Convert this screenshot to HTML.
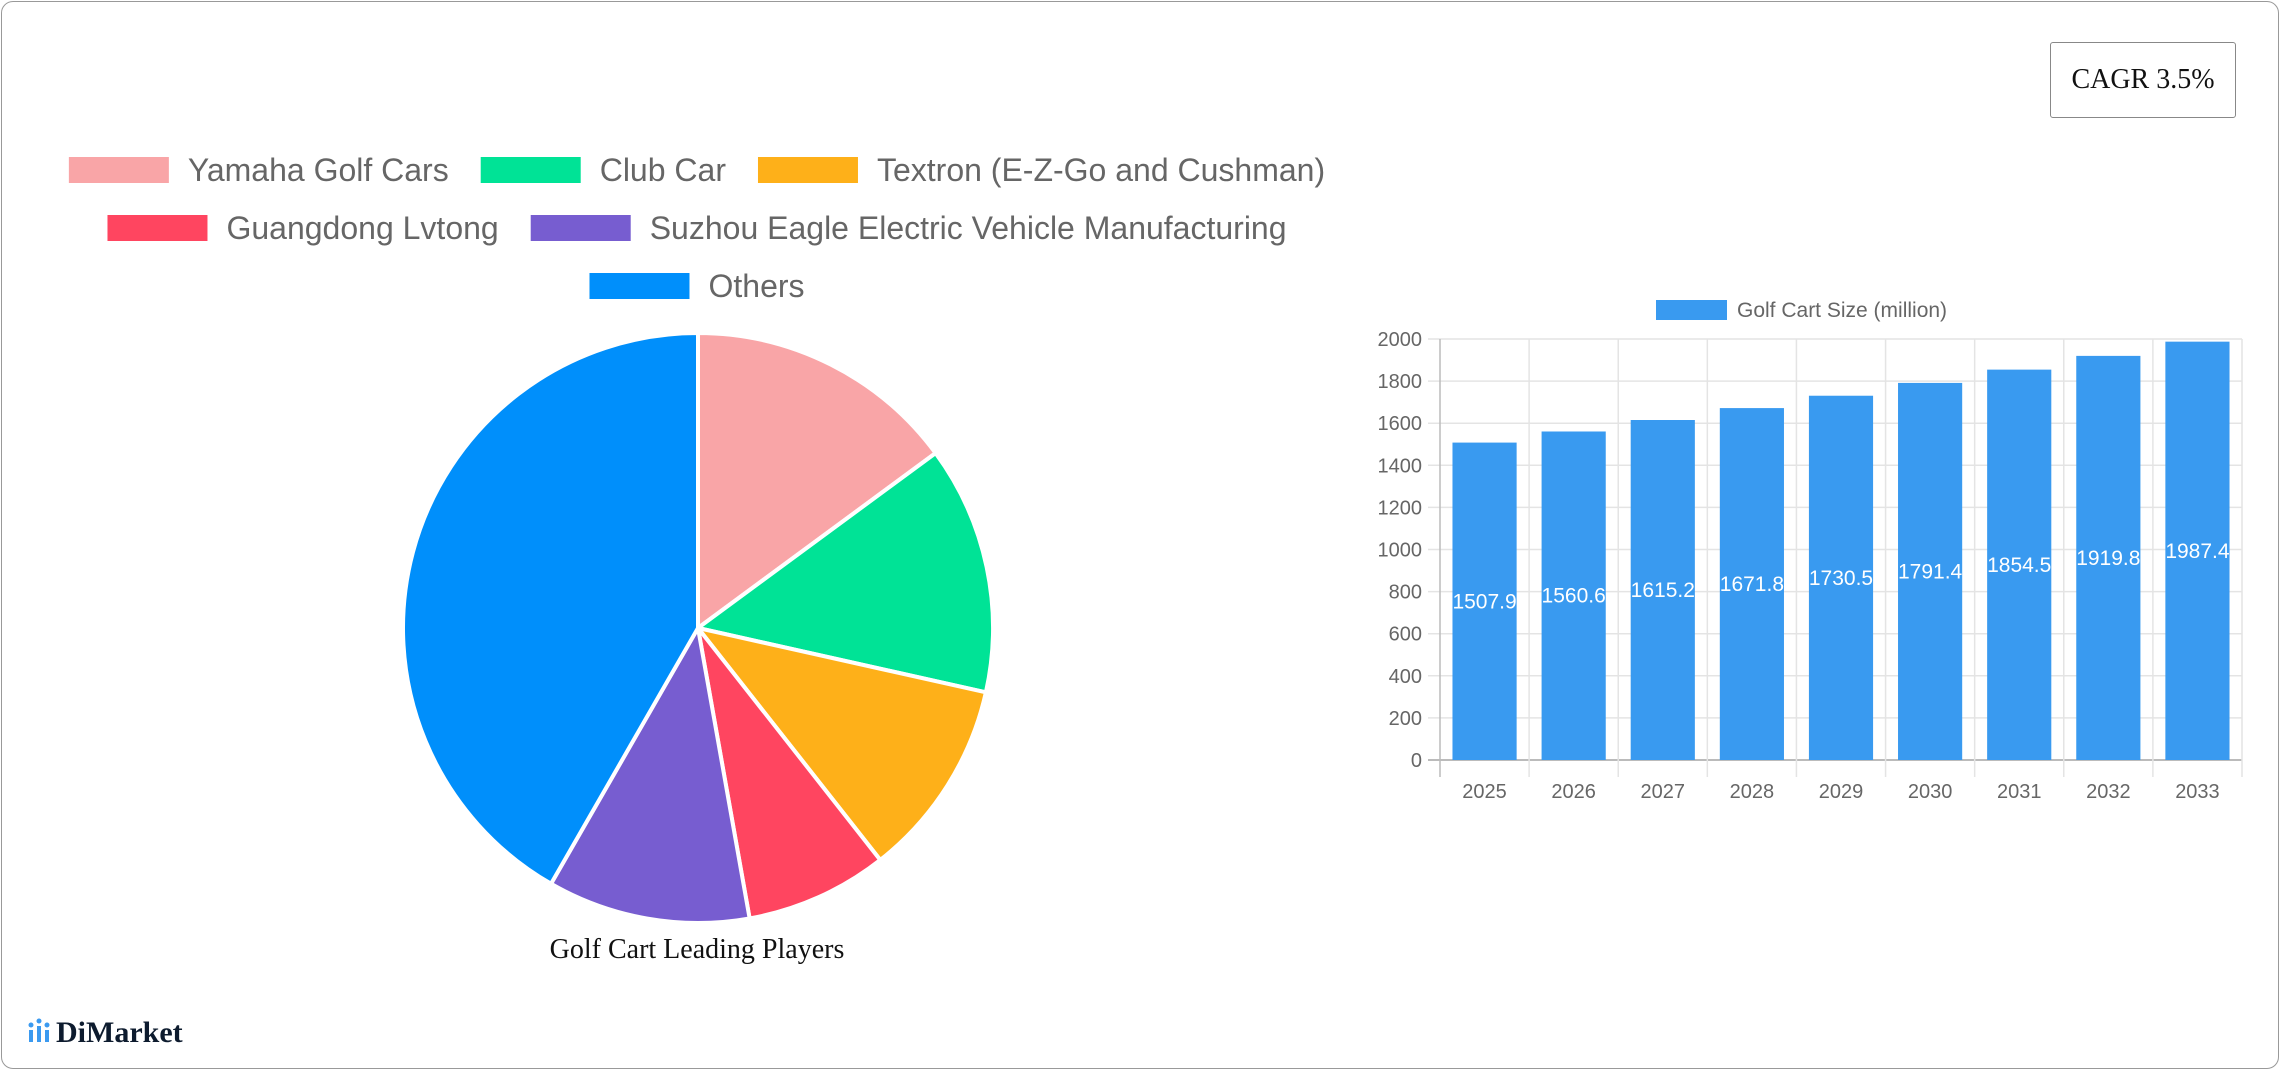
<!DOCTYPE html>
<html><head><meta charset="utf-8"><style>
html,body{margin:0;padding:0;background:#fff;}
body{width:2280px;height:1070px;position:relative;overflow:hidden;font-family:"Liberation Sans",sans-serif;}
#frame{position:absolute;left:1px;top:1px;width:2276px;height:1066px;border:1px solid #999;border-radius:12px;}
#cagr{position:absolute;left:2050px;top:42px;width:184px;height:74px;border:1px solid #888;border-radius:3px;font-family:"Liberation Serif",serif;font-size:28px;line-height:74px;text-align:center;color:#111;}
</style></head><body>
<div id="frame"></div>
<div id="cagr">CAGR 3.5%</div>
<svg id="svg" width="2280" height="1070" style="position:absolute;left:0;top:0"></svg>
<script>
const pieLabels=["Yamaha Golf Cars","Club Car","Textron (E-Z-Go and Cushman)","Guangdong Lvtong","Suzhou Eagle Electric Vehicle Manufacturing","Others"];
const pieValues=[14.9,13.6,10.9,7.8,11.1,41.7];
const pieColors=["#f9a5a7","#00e396","#feb019","#ff4560","#775dd0","#008ffb"];
const years=["2025","2026","2027","2028","2029","2030","2031","2032","2033"];
const sizes=[1507.9,1560.6,1615.2,1671.8,1730.5,1791.4,1854.5,1919.8,1987.4];
const yTicks=[0,200,400,600,800,1000,1200,1400,1600,1800,2000];

const NS="http://www.w3.org/2000/svg";
const svg=document.getElementById('svg');
function mk(t,a,p){const e=document.createElementNS(NS,t);for(const k in a)e.setAttribute(k,a[k]);(p||svg).appendChild(e);return e;}

// Pie legend
const rows=[[0,1,2],[3,4],[5]];
const rowY=[170,228,286];
const FS=32;
const ctx=document.createElement('canvas').getContext('2d');ctx.font=FS+'px "Liberation Sans"';
rows.forEach((r,ri)=>{
  const widths=r.map(i=>100+19+ctx.measureText(pieLabels[i]).width);
  const total=widths.reduce((a,b)=>a+b,0)+(r.length-1)*32;
  let x=697-total/2;
  r.forEach((i,k)=>{
    const g=mk('g',{});
    
    
    mk('rect',{x:x,y:rowY[ri]-13,width:100,height:26,fill:pieColors[i]},g);
    const t=mk('text',{x:x+119,y:rowY[ri]+11,'font-size':FS,fill:'#666'},g);t.textContent=pieLabels[i];
    x+=widths[k]+32;
  });
});

// Pie
const cx=698,cy=628,R=295;
const tot=pieValues.reduce((a,b)=>a+b,0);
let ang=0;
pieValues.forEach((v,i)=>{
  const a0=ang,a1=ang+v/tot*2*Math.PI;ang=a1;
  const x0=cx+R*Math.sin(a0),y0=cy-R*Math.cos(a0),x1=cx+R*Math.sin(a1),y1=cy-R*Math.cos(a1);
  const p=mk('path',{d:`M${cx},${cy}L${x0},${y0}A${R},${R} 0 ${a1-a0>Math.PI?1:0} 1 ${x1},${y1}Z`,fill:pieColors[i],stroke:'#fff','stroke-width':4});
  
  
});
const pt=mk('text',{x:697,y:958,'font-size':28,'text-anchor':'middle','font-family':'Liberation Serif',fill:'#111'});
pt.textContent='Golf Cart Leading Players';



// Bar chart
const L=1440,Rr=2242,T=339,B=760,yMax=2000;
const ys=v=>B-(v/yMax)*(B-T);
const bw=(Rr-L)/years.length;
yTicks.forEach(v=>{
  mk('line',{x1:L-12,x2:Rr,y1:ys(v),y2:ys(v),stroke:v===0?'#bbb':'#e4e4e4','stroke-width':v===0?2:1.5});
  const t=mk('text',{x:L-18,y:ys(v)+7,'font-size':20,'text-anchor':'end',fill:'#666'});t.textContent=v;
  
  
});
for(let i=0;i<=years.length;i++) mk('line',{x1:L+i*bw,x2:L+i*bw,y1:T,y2:B+17,stroke:i===0?'#bbb':'#e4e4e4','stroke-width':1.5});
years.forEach((y,i)=>{
  const x=L+i*bw+bw*0.14,w=bw*0.72;
  const r=mk('rect',{x:x,y:ys(sizes[i]),width:w,height:B-ys(sizes[i]),fill:'#399af0'});
  
  
  const vt=mk('text',{x:x+w/2,y:(ys(sizes[i])+B)/2+7,'font-size':21,'text-anchor':'middle',fill:'#fff'});vt.textContent=sizes[i];
  
  
  const xt=mk('text',{x:L+i*bw+bw/2,y:798,'font-size':20,'text-anchor':'middle',fill:'#666'});xt.textContent=y;
  
  
});
const lg=mk('g',{});


mk('rect',{x:1656,y:300,width:71,height:20,fill:'#399af0'},lg);
const lt=mk('text',{x:1737,y:317,'font-size':21,fill:'#666'},lg);lt.textContent='Golf Cart Size (million)';

// Logo
const lgo=mk('g',{});


[[31,1030],[39,1026],[47,1030]].forEach(([x,y])=>{mk('rect',{x:x-2,y:y,width:4,height:1042-y,fill:'#3b9af0'},lgo);mk('circle',{cx:x,cy:y-5,r:2.5,fill:'#3b9af0'},lgo);});
const lt2=mk('text',{x:56,y:1042,'font-size':30,'font-weight':'bold','font-family':'Liberation Serif',fill:'#0d1b2e'},lgo);lt2.textContent='DiMarket';
</script>
</body></html>
